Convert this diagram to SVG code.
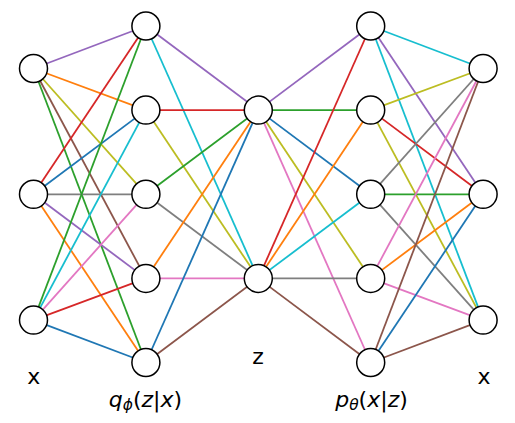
<svg xmlns="http://www.w3.org/2000/svg" width="515" height="423" viewBox="0 0 515 423">
<style>
line{stroke-width:1.8;fill:none}
.c0{stroke:#1f77b4}.c1{stroke:#ff7f0e}.c2{stroke:#2ca02c}.c3{stroke:#d62728}.c4{stroke:#9467bd}
.c5{stroke:#8c564b}.c6{stroke:#e377c2}.c7{stroke:#7f7f7f}.c8{stroke:#bcbd22}.c9{stroke:#17becf}
circle{fill:#fff;stroke:#000;stroke-width:1.5}
text{font-family:"DejaVu Sans","Liberation Sans",sans-serif;font-size:22px;fill:#000}
.i{font-style:italic}
</style>
<rect width="515" height="423" fill="#fff"/>
<g id="connectors">
<!-- layer 0 -> 1 -->
<line class="c0" x1="33.5" y1="320.1" x2="145.9" y2="362.5"/>
<line class="c1" x1="33.5" y1="194.3" x2="145.9" y2="362.5"/>
<line class="c2" x1="33.5" y1="68.5" x2="145.9" y2="362.5"/>
<line class="c3" x1="33.5" y1="320.1" x2="145.9" y2="278.4"/>
<line class="c4" x1="33.5" y1="194.3" x2="145.9" y2="278.4"/>
<line class="c5" x1="33.5" y1="68.5" x2="145.9" y2="278.4"/>
<line class="c6" x1="33.5" y1="320.1" x2="145.9" y2="194.3"/>
<line class="c7" x1="33.5" y1="194.3" x2="145.9" y2="194.3"/>
<line class="c8" x1="33.5" y1="68.5" x2="145.9" y2="194.3"/>
<line class="c9" x1="33.5" y1="320.1" x2="145.9" y2="110.1"/>
<line class="c0" x1="33.5" y1="194.3" x2="145.9" y2="110.1"/>
<line class="c1" x1="33.5" y1="68.5" x2="145.9" y2="110.1"/>
<line class="c2" x1="33.5" y1="320.1" x2="145.9" y2="26"/>
<line class="c3" x1="33.5" y1="194.3" x2="145.9" y2="26"/>
<line class="c4" x1="33.5" y1="68.5" x2="145.9" y2="26"/>
<!-- layer 1 -> 2 -->
<line class="c5" x1="145.9" y1="362.5" x2="258.3" y2="278.4"/>
<line class="c6" x1="145.9" y1="278.4" x2="258.3" y2="278.4"/>
<line class="c7" x1="145.9" y1="194.3" x2="258.3" y2="278.4"/>
<line class="c8" x1="145.9" y1="110.1" x2="258.3" y2="278.4"/>
<line class="c9" x1="145.9" y1="26" x2="258.3" y2="278.4"/>
<line class="c0" x1="145.9" y1="362.5" x2="258.3" y2="110.1"/>
<line class="c1" x1="145.9" y1="278.4" x2="258.3" y2="110.1"/>
<line class="c2" x1="145.9" y1="194.3" x2="258.3" y2="110.1"/>
<line class="c3" x1="145.9" y1="110.1" x2="258.3" y2="110.1"/>
<line class="c4" x1="145.9" y1="26" x2="258.3" y2="110.1"/>
<!-- layer 2 -> 3 -->
<line class="c5" x1="258.3" y1="278.4" x2="370.7" y2="362.5"/>
<line class="c6" x1="258.3" y1="110.1" x2="370.7" y2="362.5"/>
<line class="c7" x1="258.3" y1="278.4" x2="370.7" y2="278.4"/>
<line class="c8" x1="258.3" y1="110.1" x2="370.7" y2="278.4"/>
<line class="c9" x1="258.3" y1="278.4" x2="370.7" y2="194.3"/>
<line class="c0" x1="258.3" y1="110.1" x2="370.7" y2="194.3"/>
<line class="c1" x1="258.3" y1="278.4" x2="370.7" y2="110.1"/>
<line class="c2" x1="258.3" y1="110.1" x2="370.7" y2="110.1"/>
<line class="c3" x1="258.3" y1="278.4" x2="370.7" y2="26"/>
<line class="c4" x1="258.3" y1="110.1" x2="370.7" y2="26"/>
<!-- layer 3 -> 4 -->
<line class="c5" x1="370.7" y1="362.5" x2="483.1" y2="320.1"/>
<line class="c6" x1="370.7" y1="278.4" x2="483.1" y2="320.1"/>
<line class="c7" x1="370.7" y1="194.3" x2="483.1" y2="320.1"/>
<line class="c8" x1="370.7" y1="110.1" x2="483.1" y2="320.1"/>
<line class="c9" x1="370.7" y1="26" x2="483.1" y2="320.1"/>
<line class="c0" x1="370.7" y1="362.5" x2="483.1" y2="194.3"/>
<line class="c1" x1="370.7" y1="278.4" x2="483.1" y2="194.3"/>
<line class="c2" x1="370.7" y1="194.3" x2="483.1" y2="194.3"/>
<line class="c3" x1="370.7" y1="110.1" x2="483.1" y2="194.3"/>
<line class="c4" x1="370.7" y1="26" x2="483.1" y2="194.3"/>
<line class="c5" x1="370.7" y1="362.5" x2="483.1" y2="68.5"/>
<line class="c6" x1="370.7" y1="278.4" x2="483.1" y2="68.5"/>
<line class="c7" x1="370.7" y1="194.3" x2="483.1" y2="68.5"/>
<line class="c8" x1="370.7" y1="110.1" x2="483.1" y2="68.5"/>
<line class="c9" x1="370.7" y1="26" x2="483.1" y2="68.5"/>
</g>
<g id="a0"><circle cx="33.5" cy="68.5" r="14"/></g>
<g id="a1"><circle cx="33.5" cy="194.3" r="14"/></g>
<g id="a2"><circle cx="33.5" cy="320.1" r="14"/></g>
<g id="b0"><circle cx="145.9" cy="26" r="14"/></g>
<g id="b1"><circle cx="145.9" cy="110.1" r="14"/></g>
<g id="b2"><circle cx="145.9" cy="194.3" r="14"/></g>
<g id="b3"><circle cx="145.9" cy="278.4" r="14"/></g>
<g id="b4"><circle cx="145.9" cy="362.5" r="14"/></g>
<g id="c0n"><circle cx="258.3" cy="110.1" r="14"/></g>
<g id="c1n"><circle cx="258.3" cy="278.4" r="14"/></g>
<g id="d0"><circle cx="370.7" cy="26" r="14"/></g>
<g id="d1"><circle cx="370.7" cy="110.1" r="14"/></g>
<g id="d2"><circle cx="370.7" cy="194.3" r="14"/></g>
<g id="d3"><circle cx="370.7" cy="278.4" r="14"/></g>
<g id="d4"><circle cx="370.7" cy="362.5" r="14"/></g>
<g id="e0"><circle cx="483.1" cy="68.5" r="14"/></g>
<g id="e1"><circle cx="483.1" cy="194.3" r="14"/></g>
<g id="e2"><circle cx="483.1" cy="320.1" r="14"/></g>
<g id="labels">
<text x="33.8" y="383.5" text-anchor="middle">x</text>
<text x="258" y="363.5" text-anchor="middle">z</text>
<text x="484" y="383.5" text-anchor="middle">x</text>
<text x="145.5" y="406.5" text-anchor="middle"><tspan class="i">q</tspan><tspan class="i" font-size="15.4" dy="3.5">ϕ</tspan><tspan dy="-3.5">(</tspan><tspan class="i">z</tspan>|<tspan class="i">x</tspan>)</text>
<text x="371.5" y="406.5" text-anchor="middle"><tspan class="i">p</tspan><tspan class="i" font-size="15.4" dy="3.5">θ</tspan><tspan dy="-3.5">(</tspan><tspan class="i">x</tspan>|<tspan class="i">z</tspan>)</text>
</g>
</svg>
